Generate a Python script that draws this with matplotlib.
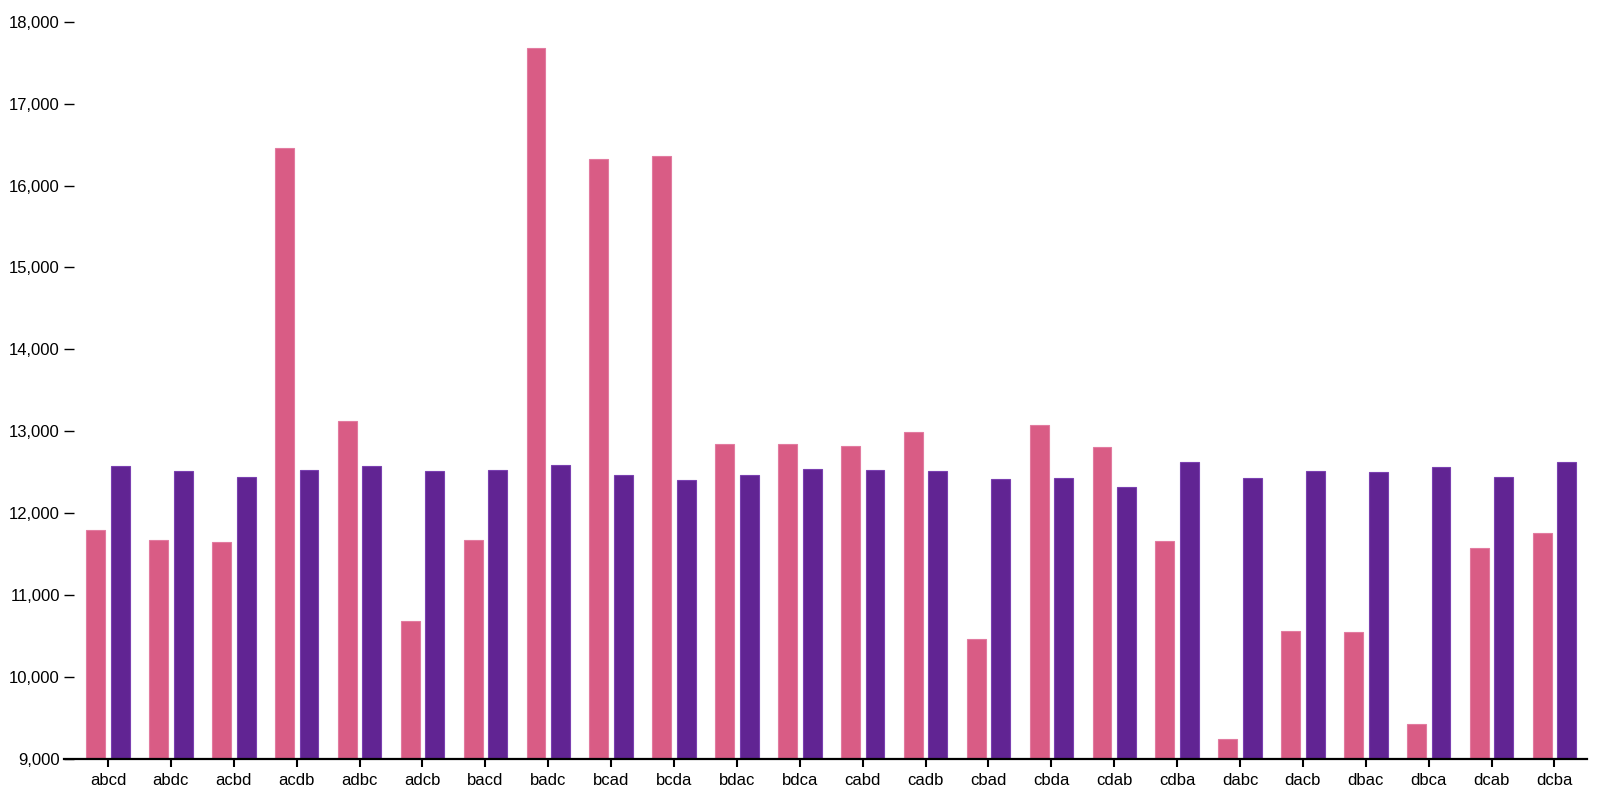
import matplotlib
matplotlib.use('Agg')
import matplotlib.pyplot as plt
import matplotlib.ticker as mticker
import numpy as np

plt.rcParams['font.family'] = ['Liberation Sans', 'DejaVu Sans']

categories = ['abcd', 'abdc', 'acbd', 'acdb', 'adbc', 'adcb', 'bacd', 'badc',
              'bcad', 'bcda', 'bdac', 'bdca', 'cabd', 'cadb', 'cbad', 'cbda',
              'cdab', 'cdba', 'dabc', 'dacb', 'dbac', 'dbca', 'dcab', 'dcba']
pink_values = [11797, 11679, 11654, 16459, 13124, 10679, 11672, 17675,
               16321, 16358, 12843, 12847, 12819, 12997, 10459, 13079,
               12807, 11667, 9248, 10562, 10550, 9432, 11577, 11760]
purple_values = [12572, 12519, 12441, 12530, 12579, 12518, 12530, 12591,
                 12469, 12404, 12466, 12538, 12527, 12518, 12420, 12436,
                 12326, 12631, 12428, 12514, 12502, 12560, 12441, 12629]
y_ticks = [9000, 10000, 11000, 12000, 13000, 14000, 15000, 16000, 17000, 18000]

x = np.arange(len(categories))
base = 9000

fig = plt.figure(figsize=(16, 8.02), dpi=100)
ax = fig.add_axes([0.04, 0.0536, 0.952, 0.9194])

ax.bar(x - 0.195, np.array(pink_values) - base, bottom=base, width=0.30,
       color='#d95c85', edgecolor='#e27ba0', linewidth=0.8)
ax.bar(x + 0.195, np.array(purple_values) - base, bottom=base, width=0.30,
       color='#612493', edgecolor='#7a40b0', linewidth=0.8)

ax.set_xlim(-0.70, 23.52)
ax.set_ylim(9000, 18000)
ax.set_xticks(x)
ax.set_xticklabels(categories)
ax.set_yticks(y_ticks)
ax.yaxis.set_major_formatter(mticker.StrMethodFormatter('{x:,.0f}'))

for side in ['top', 'right', 'left']:
    ax.spines[side].set_visible(False)
ax.spines['bottom'].set_linewidth(1.6)
ax.spines['bottom'].set_color('black')

ax.tick_params(axis='y', direction='in', length=7, width=1.0, pad=3,
               labelsize=12, colors='black')
ax.tick_params(axis='x', direction='out', length=6, width=1.5, pad=4,
               labelsize=12, colors='black')

fig.savefig('out.png', dpi=100, facecolor='white')
